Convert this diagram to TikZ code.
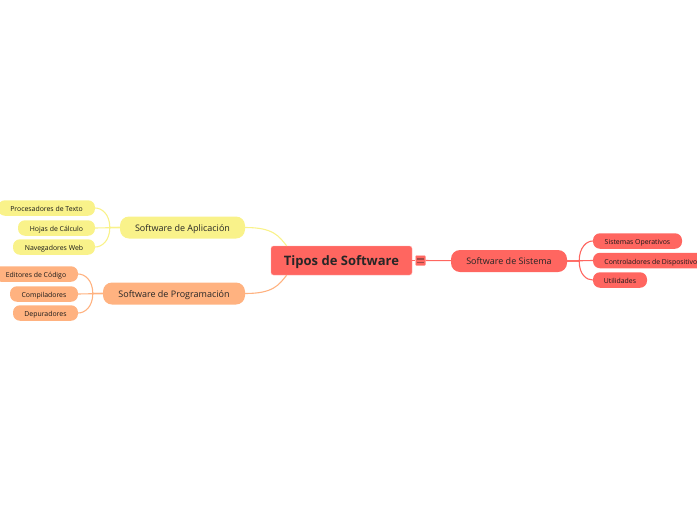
\documentclass[tikz,border=0pt]{standalone}
\usepackage{fontspec}
\setmainfont{Open Sans}
\usepackage{tikz}
\definecolor{redfill}{HTML}{FF6660}
\definecolor{yellowfill}{HTML}{F9F28A}
\definecolor{orangefill}{HTML}{FFB280}
\definecolor{darkbar}{HTML}{A34A48}
\tikzstyle{root} = [rectangle, rounded corners=2.5pt, minimum width=141pt, minimum height=29pt, text centered, fill=redfill, draw=redfill!55!white, font=\fontsize{13}{15}\selectfont\bfseries, text=black!85, text height=9.5pt, text depth=0pt]
\tikzstyle{branch} = [rectangle, rounded corners=9pt, minimum height=22pt, inner sep=0pt, text centered, font=\fontsize{9}{11}\selectfont, text=black!85, text height=7pt, text depth=0pt]
\tikzstyle{leaf} = [rectangle, rounded corners=7pt, minimum height=15.5pt, inner sep=0pt, text centered, font=\fontsize{6.9}{8}\selectfont, text=black!90, text height=7pt, text depth=0pt]
\tikzstyle{toggle} = [rectangle, rounded corners=1pt, minimum width=10pt, minimum height=10pt, inner sep=0pt, fill=redfill, draw=redfill!55!white]
\tikzstyle{redlink} = [redfill, line width=1.1pt]
\tikzstyle{yellowlink} = [yellowfill, line width=1.1pt]
\tikzstyle{orangelink} = [orangefill, line width=1.1pt]
\begin{document}
\begin{tikzpicture}[x=1pt, y=1pt, node distance=100pt]
        \useasboundingbox (0,-520) rectangle (697,0);
        \node (root) [root] at (341.5,-260.5) {Tipos de Software};
        \node (toggle) [toggle, right of=root, xshift=-21pt] {};
        \node (sistema) [branch, fill=redfill, minimum width=116pt, right of=root, xshift=67.5pt, yshift=-0.5pt] {Software de Sistema};
        \node (aplicacion) [branch, fill=yellowfill, minimum width=125pt, left of=root, xshift=-59pt, yshift=33pt] {Software de Aplicación};
        \node (programacion) [branch, fill=orangefill, minimum width=142pt, left of=root, xshift=-67.5pt, yshift=-33pt] {Software de Programación};

        \node (procesadores) [leaf, fill=yellowfill, minimum width=97pt, left of=aplicacion, xshift=-36pt, yshift=19.5pt] {Procesadores de Texto};
        \node (hojas) [leaf, fill=yellowfill, minimum width=77pt, left of=aplicacion, xshift=-26pt, yshift=-0.5pt] {Hojas de Cálculo};
        \node (navegadores) [leaf, fill=yellowfill, minimum width=82pt, left of=aplicacion, xshift=-28.5pt, yshift=-19.5pt] {Navegadores Web};

        \node (editores) [leaf, fill=orangefill, minimum width=84pt, left of=programacion, xshift=-38pt, yshift=19.5pt] {Editores de Código};
        \node (compiladores) [leaf, fill=orangefill, minimum width=68pt, left of=programacion, xshift=-30pt, yshift=-0.5pt] {Compiladores};
        \node (depuradores) [leaf, fill=orangefill, minimum width=65pt, left of=programacion, xshift=-28.5pt, yshift=-19.5pt] {Depuradores};

        \node (operativos) [leaf, fill=redfill, minimum width=89pt, right of=sistema, xshift=28.5pt, yshift=20pt] {Sistemas Operativos};
        \node (controladores) [leaf, fill=redfill, minimum width=119pt, right of=sistema, xshift=43.5pt, yshift=0.5pt] {Controladores de Dispositivos};
        \node (utilidades) [leaf, fill=redfill, minimum width=54pt, right of=sistema, xshift=11pt, yshift=-19pt] {Utilidades};

        \draw [darkbar, line width=1.2pt] ([xshift=-3.5pt, yshift=1.6pt]toggle.center) -- ([xshift=3.5pt, yshift=1.6pt]toggle.center);
        \draw [darkbar, line width=1.2pt] ([xshift=-3.5pt, yshift=-1.6pt]toggle.center) -- ([xshift=3.5pt, yshift=-1.6pt]toggle.center);

        \draw [redlink] (root) -- (toggle);
        \draw [redlink] (toggle) -- (sistema);
        \draw [yellowlink] (aplicacion.east) .. controls +(28pt,0pt) and +(-8pt,10pt) .. (root.165);
        \draw [orangelink] (programacion.east) .. controls +(28pt,0pt) and +(-8pt,-10pt) .. (root.195);

        \draw [yellowlink] (aplicacion.west) -- (hojas.east);
        \draw [yellowlink] (aplicacion.west) -- +(-10pt,0pt) .. controls +(0pt,14pt) and +(6pt,0pt) .. (procesadores.east);
        \draw [yellowlink] (aplicacion.west) -- +(-10pt,0pt) .. controls +(0pt,-14pt) and +(6pt,0pt) .. (navegadores.east);

        \draw [orangelink] (programacion.west) -- (compiladores.east);
        \draw [orangelink] (programacion.west) -- +(-10pt,0pt) .. controls +(0pt,14pt) and +(6pt,0pt) .. (editores.east);
        \draw [orangelink] (programacion.west) -- +(-10pt,0pt) .. controls +(0pt,-14pt) and +(6pt,0pt) .. (depuradores.east);

        \draw [redlink] (sistema.east) -- (controladores.west);
        \draw [redlink] (sistema.east) -- +(12pt,0pt) .. controls +(0pt,14pt) and +(-6pt,0pt) .. (operativos.west);
        \draw [redlink] (sistema.east) -- +(12pt,0pt) .. controls +(0pt,-14pt) and +(-6pt,0pt) .. (utilidades.west);
    \end{tikzpicture}
\end{document}
